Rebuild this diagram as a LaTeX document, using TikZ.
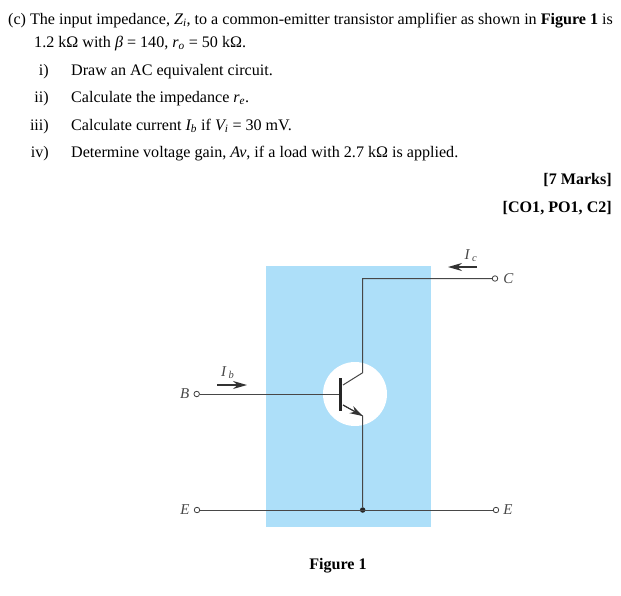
\documentclass[tikz,border=0pt]{standalone}
\usepackage{fontspec}
\setmainfont{Liberation Serif}
\usetikzlibrary{arrows.meta}
\definecolor{PanelBlue}{HTML}{ADDFF9}
\tikzset{
	TextLine/.style={anchor=base west, inner sep=0pt, font=\fontsize{16.1}{18}\selectfont},
	MarkLine/.style={anchor=base east, inner sep=0pt, font=\fontsize{16.1}{18}\selectfont\bfseries},
	Wire/.style={draw=black!72, line width=1pt},
	Port/.style={circle, draw=black!75, fill=white, line width=0.8pt, minimum size=5.5pt, inner sep=0pt},
	PortLabel/.style={inner sep=0pt, text=black!72, font=\fontsize{15}{15}\selectfont\itshape},
	CurrentArrow/.style={draw=black!80, line width=1.4pt, -{Stealth[length=14pt,width=8pt]}},
}
\begin{document}
\begin{tikzpicture}[x=1pt, y=-1pt]
\useasboundingbox (0,0) rectangle (621,595);

	\node[TextLine] (Q1) at (8,24) {(c) The input impedance, \textit{Z\textsubscript{i}}, to a common-emitter transistor amplifier as shown in \textbf{Figure 1} is};
	\node[TextLine] (Q2) at (34,47) {1.2 kΩ with \textit{β} = 140, \textit{r\textsubscript{o}} = 50 kΩ.};
	\node[TextLine, anchor=base east] (N1) at (49,75) {i)};
	\node[TextLine] (L1) at (71,75) {Draw an AC equivalent circuit.};
	\node[TextLine, anchor=base east] (N2) at (49,102) {ii)};
	\node[TextLine] (L2) at (71,102) {Calculate the impedance \textit{r\textsubscript{e}}.};
	\node[TextLine, anchor=base east] (N3) at (49,130) {iii)};
	\node[TextLine] (L3) at (71,130) {Calculate current \textit{I\textsubscript{b}} if \textit{V\textsubscript{i}} = 30 mV.};
	\node[TextLine, anchor=base east] (N4) at (49,157) {iv)};
	\node[TextLine] (L4) at (71,157) {Determine voltage gain, \textit{Av}, if a load with 2.7 kΩ is applied.};
	\node[MarkLine] (M1) at (612,184) {[7 Marks]};
	\node[MarkLine] (M2) at (612,212) {[CO1, PO1, C2]};

	\fill[PanelBlue] (266,266) rectangle (431,527);
	\fill[white] (355,394) circle (32);

	\node[Port] (B) at (196.7,394) {};
	\node[Port] (C) at (495,278.5) {};
	\node[Port] (EL) at (197,510) {};
	\node[Port] (ER) at (496,510) {};
	\node[PortLabel, anchor=east] (BL) at ([xshift=-4pt]B.west) {B};
	\node[PortLabel, anchor=west] (CL) at ([xshift=5pt]C.east) {C};
	\node[PortLabel, anchor=east] (EE) at ([xshift=-4pt]EL.west) {E};
	\node[PortLabel, anchor=west] (EF) at ([xshift=4pt]ER.east) {E};

	\coordinate (Bar) at (340.7,394);
	\coordinate (BarT) at (340.7,378);
	\coordinate (BarB) at (340.7,411);
	\coordinate (CB) at (343,385);
	\coordinate (CT) at (362.7,372.7);
	\coordinate (CC) at (362.7,278.5);
	\coordinate (EB) at (343,405);
	\coordinate (ET) at (362.7,416);
	\node[circle, fill=black!85, minimum size=5.5pt, inner sep=0pt] (J) at (362.7,510) {};

	\draw[Wire] (B) -- (Bar);
	\draw[Wire] (C) -- (CC) -- (CT) -- (CB);
	\draw[Wire] (EL) -- (ER);
	\draw[Wire] (J) -- (ET) -- (EB);
	\draw[black!85, line width=3.5pt] (BarT) -- (BarB);
	\draw[black!80, line width=1pt, -{Stealth[length=13pt,width=8pt]}] (EB) -- (ET);

	\coordinate (IbA) at (217,385);
	\coordinate (IbB) at (247,385);
	\coordinate (IcA) at (477,267);
	\coordinate (IcB) at (448,267);
	\draw[CurrentArrow] (IbA) -- (IbB);
	\draw[CurrentArrow] (IcA) -- (IcB);
	\node[PortLabel, anchor=base west] (Ib) at (221,376) {I\,\textsubscript{b}};
	\node[PortLabel, anchor=base west] (Ic) at (464.5,259) {I\,\textsubscript{c}};

	\node[inner sep=0pt, font=\fontsize{16.1}{18}\selectfont\bfseries] (Fig) at (338,566) {Figure 1};

\end{tikzpicture}
\end{document}
